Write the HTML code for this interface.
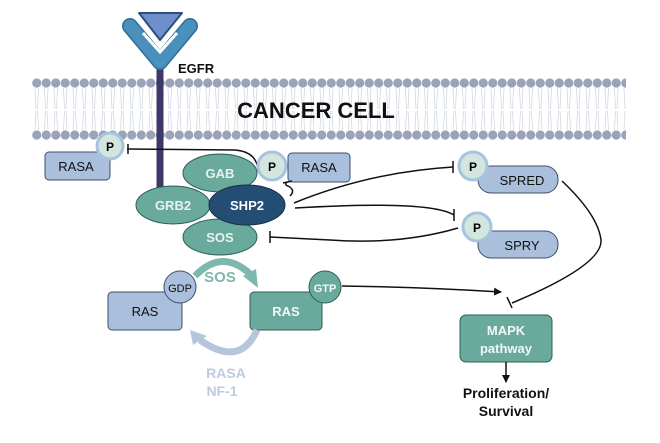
<!DOCTYPE html>
<html><head><meta charset="utf-8"><style>
html,body{margin:0;padding:0;background:#fff;}
svg{display:block;font-family:"Liberation Sans",sans-serif;}
</style></head><body>
<svg width="660" height="443" viewBox="0 0 660 443" xmlns="http://www.w3.org/2000/svg">
<defs>
<pattern id="heads" x="32" y="0" width="9.5" height="443" patternUnits="userSpaceOnUse">
<circle cx="4.75" cy="83" r="4.6" fill="#9aa4b9"/>
<circle cx="4.75" cy="135" r="4.6" fill="#9aa4b9"/>
<path d="M3 88 L4 109 M6.5 88 L5.5 109 M3 130 L4 111 M6.5 130 L5.5 111" stroke="#ccd2de" stroke-width="0.7" fill="none"/>
</pattern>
<marker id="arr" markerWidth="8" markerHeight="8" refX="7" refY="4" orient="auto" markerUnits="userSpaceOnUse"><path d="M0 0 L8 4 L0 8 Z" fill="#111"/></marker>
</defs>
<rect x="32" y="76" width="594" height="66" fill="url(#heads)"/>
<text x="316" y="118" font-size="22" font-weight="bold" text-anchor="middle" fill="#111">CANCER CELL</text>
<!-- receptor -->
<line x1="160" y1="60" x2="160" y2="190" stroke="#3d3868" stroke-width="7"/>
<path d="M130 26 L160 62 L190 26" stroke="#2f6f96" stroke-width="16" fill="none" stroke-linecap="round" stroke-linejoin="round"/>
<path d="M130 26 L160 62 L190 26" stroke="#4a90bd" stroke-width="13" fill="none" stroke-linecap="round" stroke-linejoin="round"/>
<path d="M139 13 L182 13 L160 40 Z" fill="#6f8fcc" stroke="#2c4f7c" stroke-width="2" stroke-linejoin="round"/>
<path d="M143 33 L160 52 L177 33" stroke="#fff" stroke-width="3" fill="none"/>
<text x="178" y="73" font-size="13" font-weight="bold" fill="#111">EGFR</text>
<!-- left RASA -->
<rect x="45" y="152" width="65" height="28" rx="4" fill="#a9bfdc" stroke="#3f4f6a" stroke-width="1"/>
<text x="76" y="171" font-size="13" text-anchor="middle" fill="#111">RASA</text>
<circle cx="110" cy="146" r="13" fill="#d3e6de" stroke="#a8c3e0" stroke-width="3"/>
<text x="110" y="151" font-size="12" font-weight="bold" text-anchor="middle">P</text>
<path d="M127 149 L235 150 Q258 152 258 172" stroke="#111" stroke-width="1.5" fill="none"/>
<line x1="128" y1="144" x2="128" y2="154" stroke="#111" stroke-width="1.5"/>
<!-- complex -->
<ellipse cx="220" cy="173" rx="37" ry="19" fill="#6aaa9d" stroke="#2f5f58" stroke-width="1"/>
<ellipse cx="173" cy="205" rx="37" ry="19" fill="#6aaa9d" stroke="#2f5f58" stroke-width="1"/>
<ellipse cx="220" cy="237" rx="37" ry="18" fill="#6aaa9d" stroke="#2f5f58" stroke-width="1"/>
<ellipse cx="247" cy="205" rx="38" ry="20" fill="#234d72" stroke="#1a2f48" stroke-width="1"/>
<text x="220" y="178" font-size="13" font-weight="bold" text-anchor="middle" fill="#e8f2ef">GAB</text>
<text x="173" y="210" font-size="13" font-weight="bold" text-anchor="middle" fill="#e8f2ef">GRB2</text>
<text x="247" y="210" font-size="13" font-weight="bold" text-anchor="middle" fill="#fff">SHP2</text>
<text x="220" y="242" font-size="13" font-weight="bold" text-anchor="middle" fill="#e8f2ef">SOS</text>
<!-- right RASA -->
<rect x="288" y="153" width="62" height="29" rx="4" fill="#a9bfdc" stroke="#3f4f6a" stroke-width="1"/>
<text x="319" y="172" font-size="13" text-anchor="middle" fill="#111">RASA</text>
<circle cx="272" cy="166" r="14" fill="#d3e6de" stroke="#a8c3e0" stroke-width="3"/>
<text x="272" y="171" font-size="12" font-weight="bold" text-anchor="middle">P</text>
<path d="M290 196 Q296 190 288 186 Q284 185 287 182" stroke="#111" stroke-width="1.5" fill="none"/>
<line x1="283" y1="183" x2="292" y2="181" stroke="#111" stroke-width="1.5"/>
<!-- SHP2 lines -->
<path d="M294 203 Q370 172 453 167" stroke="#111" stroke-width="1.5" fill="none"/>
<line x1="453" y1="161" x2="453" y2="173" stroke="#111" stroke-width="1.5"/>
<path d="M295 208 Q430 200 454 215" stroke="#111" stroke-width="1.5" fill="none"/>
<line x1="454" y1="209" x2="454" y2="221" stroke="#111" stroke-width="1.5"/>
<path d="M458 228 Q400 245 330 240 Q290 238 270 237" stroke="#111" stroke-width="1.5" fill="none"/>
<line x1="270" y1="231" x2="270" y2="243" stroke="#111" stroke-width="1.5"/>
<!-- SPRED / SPRY -->
<rect x="478" y="166" width="80" height="27" rx="13" fill="#a9bfdc" stroke="#3f4f6a" stroke-width="1"/>
<text x="522" y="185" font-size="13" text-anchor="middle" fill="#111">SPRED</text>
<circle cx="473" cy="166" r="14" fill="#d3e6de" stroke="#a8c3e0" stroke-width="3"/>
<text x="473" y="171" font-size="12" font-weight="bold" text-anchor="middle">P</text>
<rect x="478" y="231" width="80" height="27" rx="13" fill="#a9bfdc" stroke="#3f4f6a" stroke-width="1"/>
<text x="522" y="250" font-size="13" text-anchor="middle" fill="#111">SPRY</text>
<circle cx="477" cy="227" r="14" fill="#d3e6de" stroke="#a8c3e0" stroke-width="3"/>
<text x="477" y="232" font-size="12" font-weight="bold" text-anchor="middle">P</text>
<!-- SPRED to MAPK -->
<path d="M562 181 Q598 215 601 240 Q603 265 512 303" stroke="#111" stroke-width="1.5" fill="none"/>
<line x1="507" y1="297" x2="512" y2="308" stroke="#111" stroke-width="1.5"/>
<!-- RAS -->
<rect x="108" y="292" width="74" height="38" rx="4" fill="#a9bfdc" stroke="#3f4f6a" stroke-width="1"/>
<text x="145" y="316" font-size="13" text-anchor="middle" fill="#111">RAS</text>
<circle cx="180" cy="287" r="16" fill="#a9bfdc" stroke="#3f4f6a" stroke-width="1"/>
<text x="180" y="292" font-size="11" text-anchor="middle" fill="#111">GDP</text>
<rect x="250" y="292" width="72" height="38" rx="4" fill="#6aaa9d" stroke="#2f5f58" stroke-width="1"/>
<text x="286" y="316" font-size="13" font-weight="bold" text-anchor="middle" fill="#f2f8f6">RAS</text>
<circle cx="325" cy="287" r="16" fill="#6aaa9d" stroke="#2f5f58" stroke-width="1"/>
<text x="325" y="292" font-size="11" font-weight="bold" text-anchor="middle" fill="#f2f8f6">GTP</text>
<!-- cycle arrows -->
<path d="M195 276 Q222 248 250 274" stroke="#7db8ac" stroke-width="7" fill="none"/>
<path d="M243 276 L258 288 L256 269 Z" fill="#7db8ac"/>
<text x="220" y="282" font-size="15" font-weight="bold" text-anchor="middle" fill="#7db8ac">SOS</text>
<path d="M257 330 Q240 368 200 340" stroke="#b5c6dc" stroke-width="7" fill="none"/>
<path d="M190 330 L193 345 L207 336 Z" fill="#b5c6dc"/>
<text x="226" y="378" font-size="14" font-weight="bold" text-anchor="middle" fill="#bccbdd">RASA</text>
<text x="222" y="396" font-size="14" font-weight="bold" text-anchor="middle" fill="#bccbdd">NF-1</text>
<!-- GTP arrow -->
<path d="M342 286 Q420 287 501 292" stroke="#111" stroke-width="1.5" fill="none" marker-end="url(#arr)"/>
<!-- MAPK -->
<rect x="460" y="315" width="92" height="47" rx="6" fill="#6aaa9d" stroke="#2f5f58" stroke-width="1"/>
<text x="506" y="335" font-size="13" font-weight="bold" text-anchor="middle" fill="#f2f8f6">MAPK</text>
<text x="506" y="353" font-size="13" font-weight="bold" text-anchor="middle" fill="#f2f8f6">pathway</text>
<line x1="506" y1="362" x2="506" y2="382" stroke="#111" stroke-width="1.5" marker-end="url(#arr)"/>
<text x="506" y="398" font-size="14" font-weight="bold" text-anchor="middle" fill="#111">Proliferation/</text>
<text x="506" y="416" font-size="14" font-weight="bold" text-anchor="middle" fill="#111">Survival</text>
</svg>
</body></html>
